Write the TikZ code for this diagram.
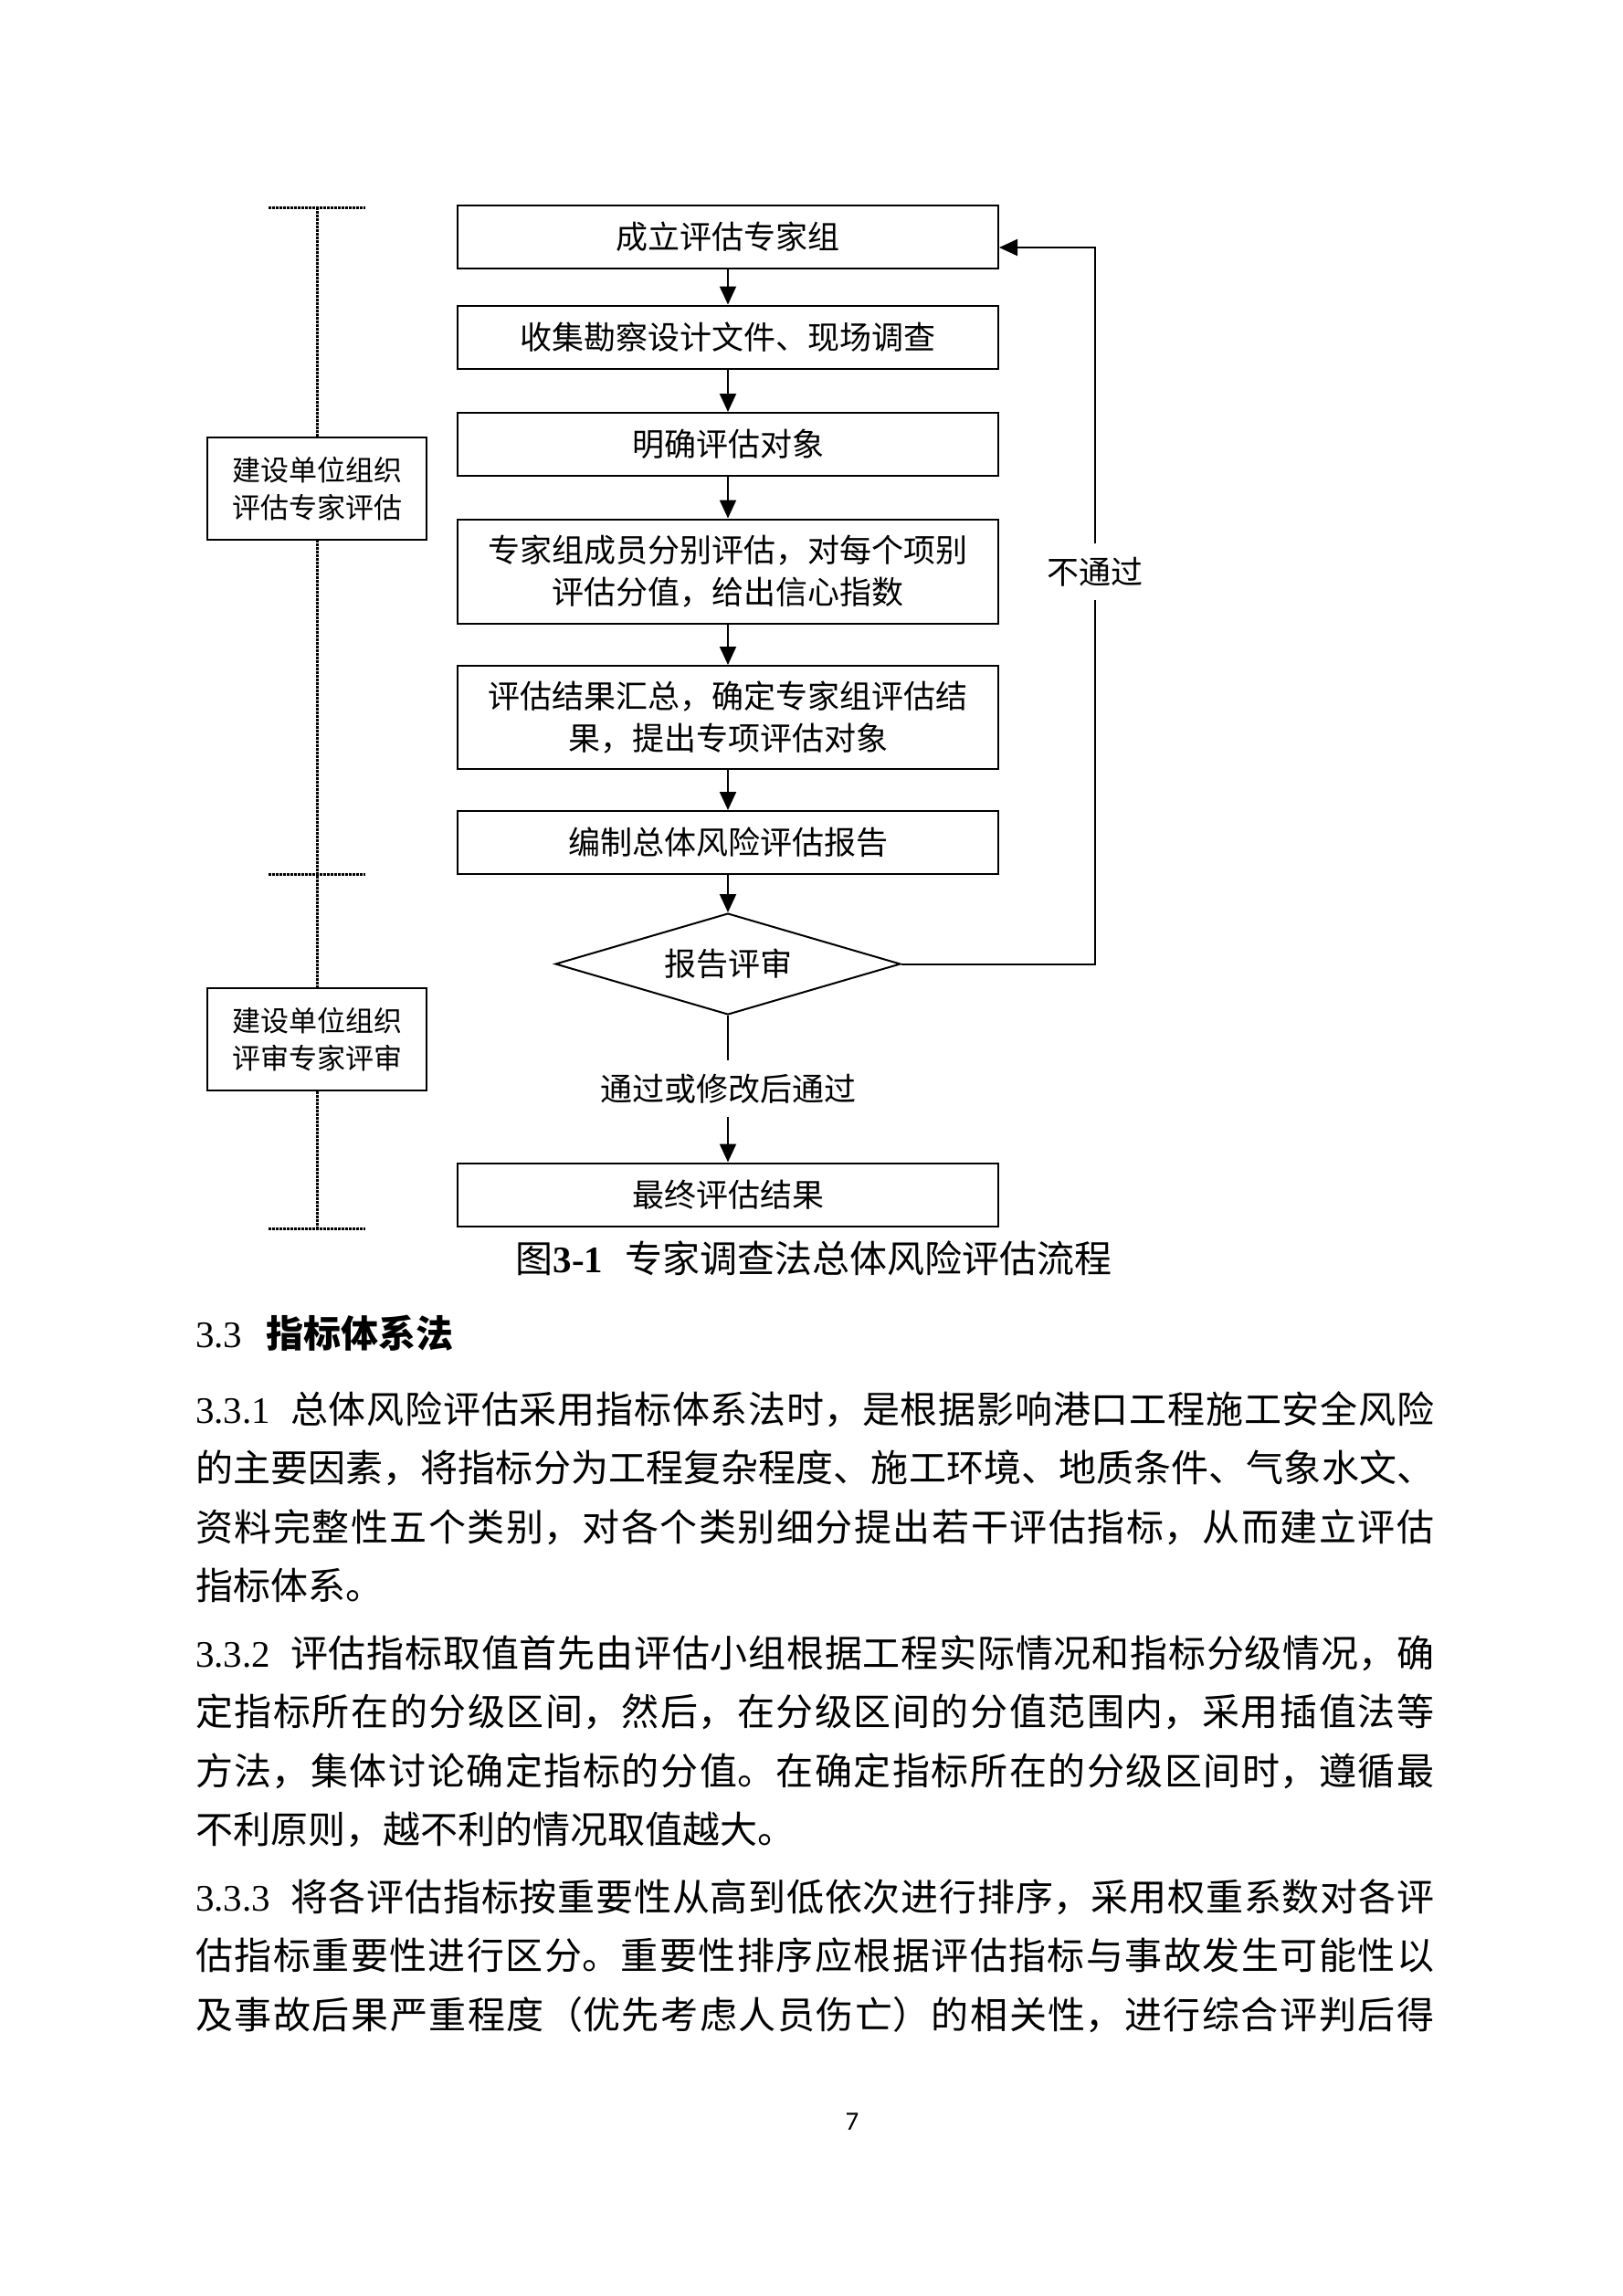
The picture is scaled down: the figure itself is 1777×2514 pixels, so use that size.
\documentclass[tikz,border=0pt]{standalone}
\usepackage{fontspec}
\usepackage{tikz}
\usetikzlibrary{arrows.meta,shapes}
\setmainfont{Liberation Serif}
\newfontfamily\cjk{Noto Sans CJK SC}
\newfontfamily\pagefont{Carlito}
\XeTeXlinebreaklocale "zh"
\XeTeXlinebreakskip=0pt plus 3pt
\newcommand{\boxw}{592pt}
\newcommand{\linew}{2pt}

\begin{document}
\begin{tikzpicture}[x=1pt,y=-1pt]
            %\draw[help lines] (0,0) grid[step=100] (1777,2514);
            \useasboundingbox (0,0) rectangle (1777,2514);
            \tikzset{FlowBox/.style = {draw, line width=\linew, minimum width=\boxw, minimum height=69pt, inner sep=0pt, align=center, font=\cjk\fontsize{35}{46}\selectfont}}
            \tikzset{TestBox/.style = {diamond, draw, line width=\linew, aspect=3.4, minimum width=378pt, minimum height=111pt, inner sep=0pt, font=\cjk\fontsize{35}{46}\selectfont}}
            \tikzset{SideBox/.style = {draw, fill=white, line width=\linew, minimum width=240pt, minimum height=112pt, inner sep=0pt, align=center, font=\cjk\fontsize{31}{41}\selectfont}}
            \tikzset{LineLabel/.style = {fill=white, inner xsep=4pt, inner ysep=15pt, font=\cjk\fontsize{35}{46}\selectfont}}
            \tikzset{FlowArrow/.style = {line width=\linew, -{Triangle[length=20pt,width=18pt]}}}
            \tikzset{DotLine/.style = {line width=3pt, dash pattern=on 2.5pt off 1.5pt}}
            \tikzset{BodyText/.style = {anchor=north west, inner sep=0pt, text width=1356pt, align=justify, font=\cjk\fontsize{41}{64.5}\selectfont}}
            % left bracket
            \coordinate (top) at (347,227);
            \coordinate (mid) at (347,957);
            \coordinate (bot) at (347,1345);
            \draw[DotLine] (top) -- (bot);
            \foreach \c in {top,mid,bot}
                \draw[DotLine] ([xshift=-53pt]\c) -- ([xshift=53pt]\c);
            \node[SideBox] (unit1) at (347,535) {建设单位组织\\评估专家评估};
            \node[SideBox] (unit2) at (347,1138) {建设单位组织\\评审专家评审};
            % flow
            \node[FlowBox] (set) at (797,259.5) {成立评估专家组};
            \node[FlowBox] (collect) at (797,369) {收集勘察设计文件、现场调查};
            \node[FlowBox] (object) at (797,486.5) {明确评估对象};
            \node[FlowBox, minimum height=114pt] (score) at (797,625.5) {专家组成员分别评估，对每个项别\\评估分值，给出信心指数};
            \node[FlowBox, minimum height=113pt] (sum) at (797,785.5) {评估结果汇总，确定专家组评估结\\果，提出专项评估对象};
            \node[FlowBox] (report) at (797,922.5) {编制总体风险评估报告};
            \node[TestBox] (review) at (797,1055.5) {报告评审};
            \node[FlowBox] (final) at (797,1308) {最终评估结果};
            \foreach \a/\b in {set/collect, collect/object, object/score, score/sum, sum/report, report/review}
                \draw[FlowArrow] (\a) -- (\b);
            \draw[FlowArrow] (review) -- node[LineLabel] (pass) {通过或修改后通过} (final);
            \coordinate (turn) at (1199,1055.5);
            \draw[FlowArrow] (review.east) -- (turn) |- ([yshift=-11.5pt]set.east);
            \node[LineLabel] (fail) at (1199,626) {不通过};
            % caption and page text
            \node[anchor=base, inner sep=0pt, font=\cjk\fontsize{41}{50}\selectfont] (caption) at (891,1393) {图{\rmfamily\bfseries 3-1}\hspace{24pt}专家调查法总体风险评估流程};
            \node[anchor=base west, inner sep=0pt, font=\fontsize{41}{50}\selectfont] (head) at (214,1475) {3.3\hspace{26pt}{\cjk\bfseries 指标体系法}};
            \node[BodyText] (p1) at (214,1518) {\noindent\rule{0pt}{40pt}{\rmfamily 3.3.1}\hspace{22pt}总体风险评估采用指标体系法时，是根据影响港口工程施工安全风险\linebreak 的主要因素，将指标分为工程复杂程度、施工环境、地质条件、气象水文、\linebreak 资料完整性五个类别，对各个类别细分提出若干评估指标，从而建立评估\linebreak 指标体系。};
            \node[BodyText] (p2) at (214,1785) {\noindent\rule{0pt}{40pt}{\rmfamily 3.3.2}\hspace{22pt}评估指标取值首先由评估小组根据工程实际情况和指标分级情况，确\linebreak 定指标所在的分级区间，然后，在分级区间的分值范围内，采用插值法等\linebreak 方法，集体讨论确定指标的分值。在确定指标所在的分级区间时，遵循最\linebreak 不利原则，越不利的情况取值越大。};
            \node[BodyText] (p3) at (214,2052) {{\parfillskip=0pt\noindent\rule{0pt}{40pt}{\rmfamily 3.3.3}\hspace{22pt}将各评估指标按重要性从高到低依次进行排序，采用权重系数对各评\linebreak 估指标重要性进行区分。重要性排序应根据评估指标与事故发生可能性以\linebreak 及事故后果严重程度（优先考虑人员伤亡）的相关性，进行综合评判后得\par}};
            \node[anchor=base, inner sep=0pt, font=\pagefont\fontsize{29}{32}\selectfont] (page) at (933,2332) {7};
        \end{tikzpicture}
\end{document}
